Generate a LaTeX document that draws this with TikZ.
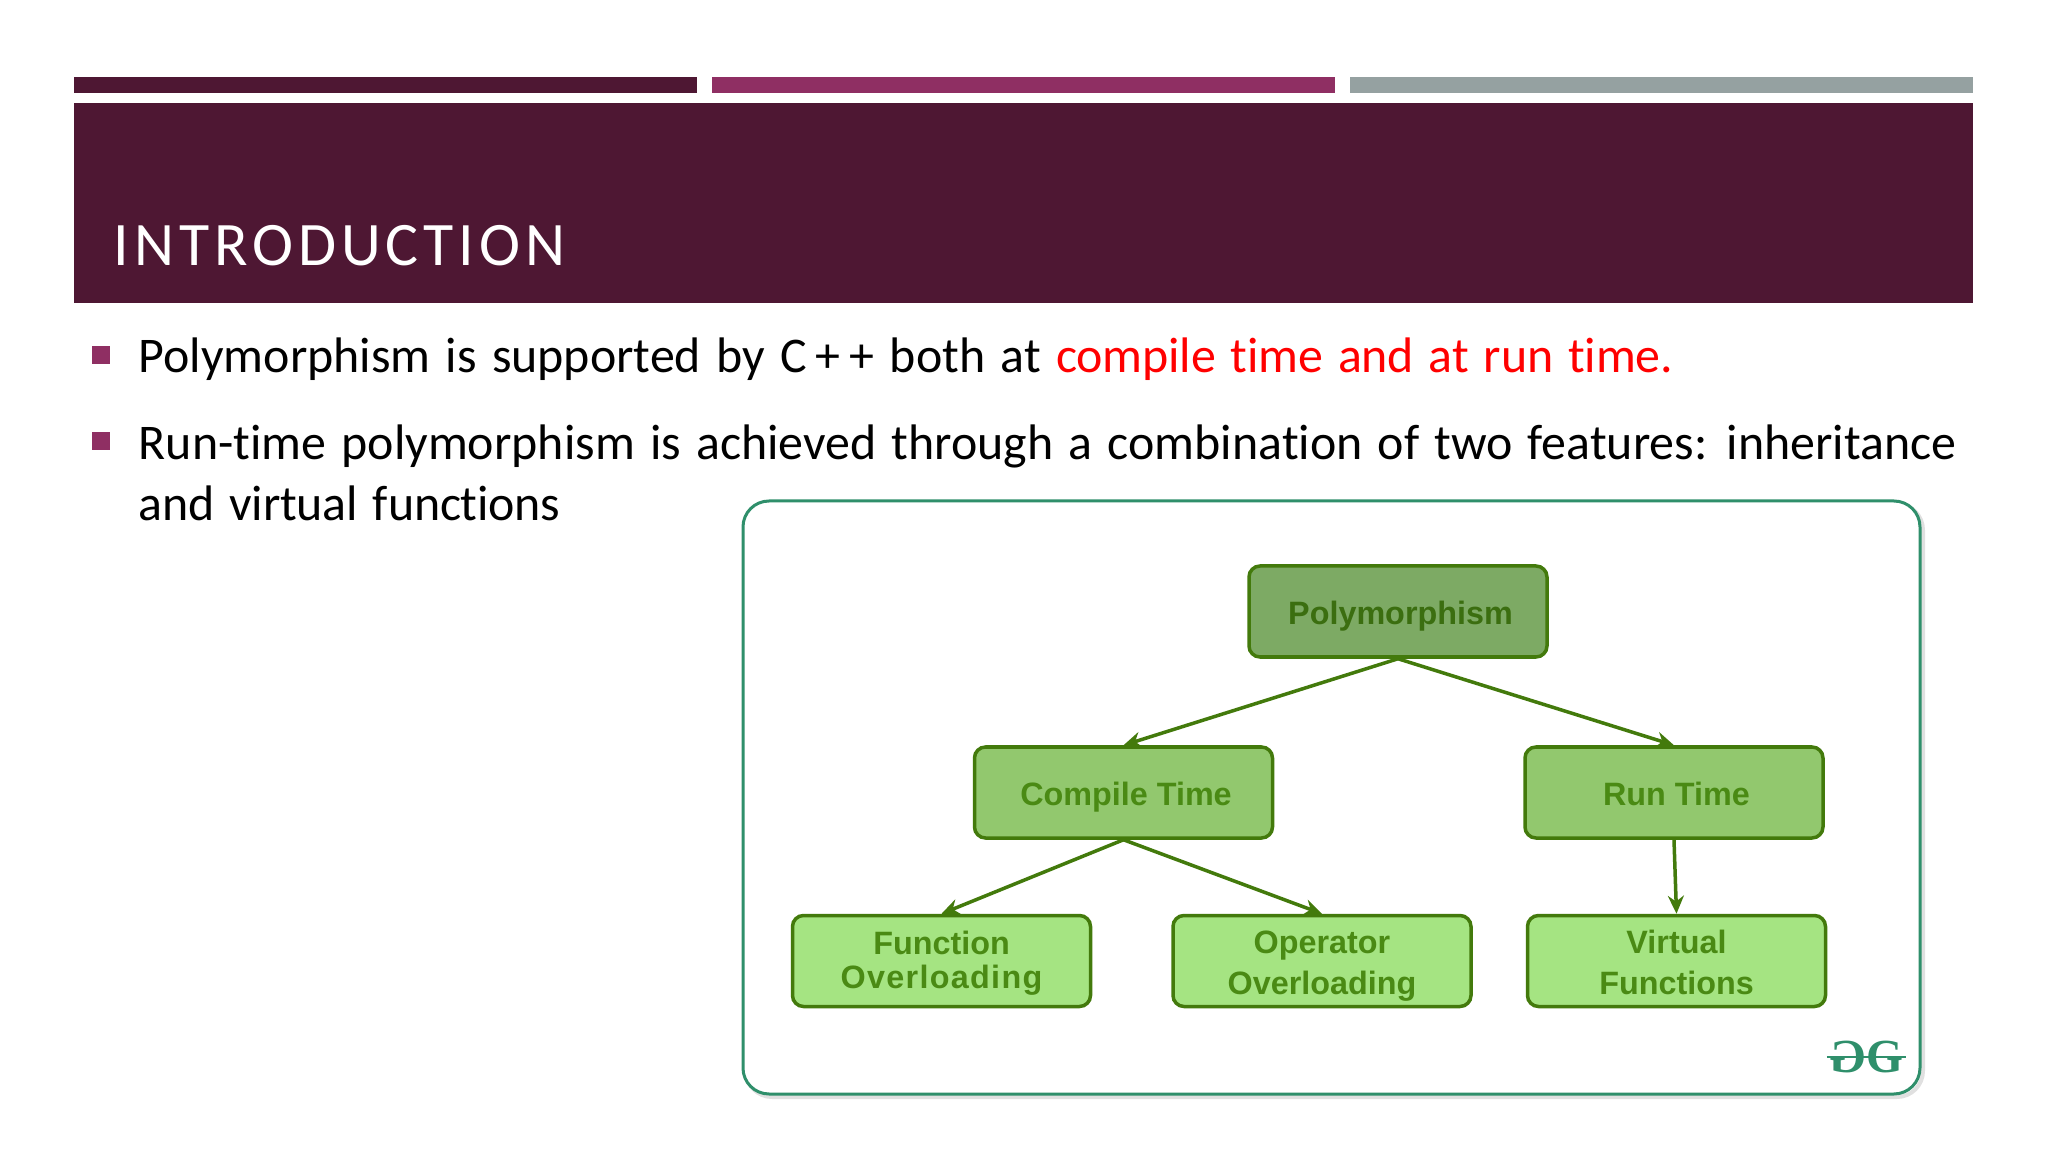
\documentclass[tikz,border=0pt]{standalone}
\usepackage{fontspec}
\usepackage{color}
\setmainfont{Carlito}[Ligatures=CommonOff,WordSpace=1.35]
\newfontfamily\boxfont{Liberation Sans}[BoldFont={* Bold}]
\newfontfamily\logofont{Liberation Serif}[BoldFont={* Bold}]
\usetikzlibrary{arrows.meta}
\usetikzlibrary{positioning}
\definecolor{plumdark}{HTML}{4E1733}
\definecolor{plumlight}{HTML}{8F2F63}
\definecolor{slategrey}{HTML}{95A1A1}
\definecolor{gfgteal}{HTML}{2F8F6B}
\definecolor{edgegreen}{HTML}{437A0C}
\definecolor{textgreen}{HTML}{4A8A14}
\newcommand{\tl}{\rule{0pt}{0.33cm}}
\newcommand{\bl}[1][0.07cm]{\rule[-#1]{0pt}{0pt}}
\newcommand{\one}{\hspace*{0.05cm}\tl\bl}
\newcommand{\wide}{\addfontfeatures{LetterSpace=4}}
\newcommand{\tight}{\addfontfeatures{LetterSpace=-0.4}}
\begin{document}
\begin{tikzpicture}
        \tikzstyle{bar}=[inner sep=0, minimum width=6.23cm, minimum height=0.16cm]
        \tikzstyle{bullet}=[inner sep=0, fill=plumlight, minimum size=0.175cm]
        \tikzstyle{body}=[inner sep=0, anchor=base west, font=\fontsize{14.2}{17.3}\selectfont]
        \tikzstyle{box}=[draw=edgegreen, line width=0.035cm, rounded corners=0.11cm, inner sep=0,
            minimum width=2.98cm, minimum height=0.91cm, align=center, text=textgreen,
            font=\boxfont\bfseries\fontsize{9.2}{11}\selectfont]
        \tikzstyle{nca}=[fill={rgb,255:red,125;green,170;blue,100}, text=textgreen!80!black]
        \tikzstyle{ncb}=[fill={rgb,255:red,146;green,200;blue,110}]
        \tikzstyle{ncc}=[fill={rgb,255:red,165;green,228;blue,130}]
        \tikzstyle{flow}=[draw=edgegreen, line width=0.035cm, -{Stealth[length=0.18cm,width=0.16cm]}]

        \useasboundingbox (0,0) rectangle (20.48,-11.52);

        \node (bar1) at (3.855,-0.85) [bar,fill=plumdark]{};
        \node (bar2) at (10.235,-0.85) [bar,fill=plumlight]{};
        \node (bar3) at (16.615,-0.85) [bar,fill=slategrey]{};
        \node (banner) at (10.235,-2.03) [fill=plumdark,inner sep=0,minimum width=18.99cm,minimum height=2cm]{};
        \node (title) at (1.13,-2.66) [inner sep=0,anchor=base west,text=white,font=\fontsize{17.6}{20}\selectfont\addfontfeatures{LetterSpace=8}]{INTRODUCTION};

        \node (b1) at (1.01,-3.55) [bullet]{};
        \node (b2) at (1.01,-4.41) [bullet]{};
        \node (t1) at (1.38,-3.73) [body]{Polymorphism is supported by {\addfontfeatures{LetterSpace=18}C++} both at \textcolor{red}{\tight compile time and at run time.}};
        \node (t2) at (1.38,-4.60) [body]{\makebox[18.18cm][s]{Run-time polymorphism is achieved through a combination of two features: inheritance}};
        \node (t3) [body] at (1.38,-5.21) {\tight and virtual functions};

        \node (shade) at (13.345,-8.005) [draw=black!12,line width=0.04cm,rounded corners=0.26cm,minimum width=11.77cm,minimum height=5.93cm]{};
        \node (frame) at (13.315,-7.975) [draw=gfgteal,fill=white,line width=0.03cm,rounded corners=0.26cm,minimum width=11.77cm,minimum height=5.93cm]{};

        \node (poly) at (13.98,-6.115) [box,nca]{\one Polymorphism};
        \node (comp) at (11.235,-7.925) [box,ncb]{\one Compile Time};
        \node (run) [box,ncb,right=2.49cm of comp]{\one Run Time};
        \node (func) at (9.415,-9.61) [box,ncc]{\tl Function\\[-0.045cm]\bl[0.12cm]{\wide Overloading}};
        \node (oper) [box,ncc,right=0.79cm of func]{\tl Operator\\[0.015cm]\bl Overloading};
        \node (virt) [box,ncc,right=0.53cm of oper]{\tl Virtual\\[0.015cm]\bl Functions};

        \draw[flow] (poly.south)--(comp.north);
        \draw[flow] (poly.south)--(run.north);
        \draw[flow] (comp.south)--(func.north);
        \draw[flow] (comp.south)--(oper.north);
        \draw[flow] (run.south)--(virt.north);

        \node (logo) at (18.665,-10.57) [inner sep=0,text=gfgteal,font=\logofont\bfseries\fontsize{13.5}{14}\selectfont]{\reflectbox{G}G};
        \draw[gfgteal,line width=0.012cm] ([xshift=-0.02cm]logo.west)--([xshift=0.02cm]logo.east);
\end{tikzpicture}
\end{document}
